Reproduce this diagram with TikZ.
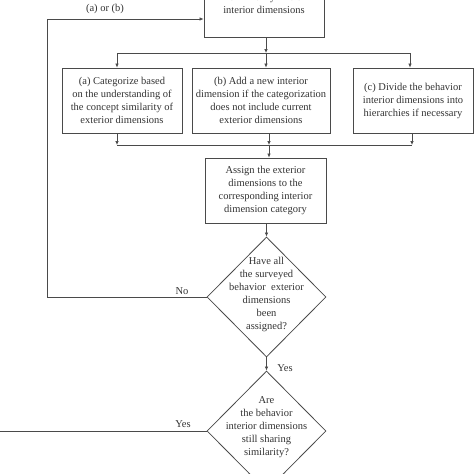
\documentclass[tikz,border=0pt]{standalone}
\usepackage{fontspec}
\setmainfont{Liberation Serif}
\usetikzlibrary{shapes.geometric,arrows.meta}
\definecolor{txt}{HTML}{333333}
\definecolor{ln}{HTML}{4A4A4A}
\begin{document}
\begin{tikzpicture}[x=1pt,y=-1pt,
  every node/.style={text=txt, font=\fontsize{10.5}{13}\selectfont},
  box/.style={draw=ln, line width=0.8pt, inner sep=0pt, align=center},
  dia/.style={draw=ln, line width=0.8pt, diamond, inner sep=0pt, minimum width=119pt, minimum height=120pt},
  lbl/.style={align=center, inner sep=0pt},
  conn/.style={draw=ln, line width=0.7pt},
  arr/.style={conn, -{Latex[length=4pt,width=3.5pt]}}
]
\useasboundingbox (0,0) rectangle (474,474);
% boxes
\node[box, minimum width=120pt, minimum height=60pt] (top) at (264,7) {};
\node[lbl] (toptext) at (264,3.5) {Preliminarily find all\\interior dimensions};
\node[box, minimum width=120pt, minimum height=65pt] (a) at (122,100.5) {(a) Categorize based\\on the understanding of\\the concept similarity of\\exterior dimensions};
\node[box, minimum width=138pt, minimum height=65pt] (b) at (261,100.5) {(b) Add a new interior\\dimension if the categorization\\does not include current\\exterior dimensions};
\node[box, minimum width=120pt, minimum height=65pt] (c) at (413,100.5) {(c) Divide the behavior\\interior dimensions into\\hierarchies if necessary};
\node[box, minimum width=121pt, minimum height=65pt] (asg) at (265.5,190.5) {Assign the exterior\\dimensions to the\\corresponding interior\\dimension category};
\node[dia] (d1) at (266.5,297) {};
\node[lbl] (d1text) at (266.5,294) {Have all\\the surveyed\\behavior~ exterior\\dimensions\\been\\assigned?};
\node[dia] (d2) at (266.5,431) {};
\node[lbl] (d2text) at (266.5,427) {Are\\the behavior\\interior dimensions\\still sharing\\similarity?};
% labels
\node[lbl] (lab) at (105,9) {(a) or (b)};
\node[lbl] (no) at (182,291) {No};
\node[lbl] (yes1) at (285,368) {Yes};
\node[lbl] (yes2) at (183,424) {Yes};
% coordinates
\coordinate (j1) at (266,53);
\coordinate (ja) at (117,53);
\coordinate (jc) at (410,53);
\coordinate (ka) at (117,145);
\coordinate (kb) at (269,145);
\coordinate (kc) at (412,145);
\coordinate (lp) at (47,19);
\coordinate (e2) at (0,431);
% connectors
\draw[arr] (top.south -| j1) -- (j1);
\draw[conn] (ja) -- (jc);
\draw[arr] (ja) -- (ja |- a.north);
\draw[arr] (j1) -- (j1 |- b.north);
\draw[arr] (jc) -- (jc |- c.north);
\draw[arr] (ka |- a.south) -- (ka);
\draw[arr] (kb |- b.south) -- (kb);
\draw[arr] (kc |- c.south) -- (kc);
\draw[conn] (ka) -- (kc);
\draw[arr] (kb) -- (kb |- asg.north);
\draw[arr] (asg.south -| d1.north) -- (d1.north);
\draw[arr] (d1.south) -- (d2.north);
\draw[arr] (d1.west) -| (lp) -- (lp -| top.west);
\draw[conn] (d2.west) -- (e2);
\end{tikzpicture}
\end{document}
